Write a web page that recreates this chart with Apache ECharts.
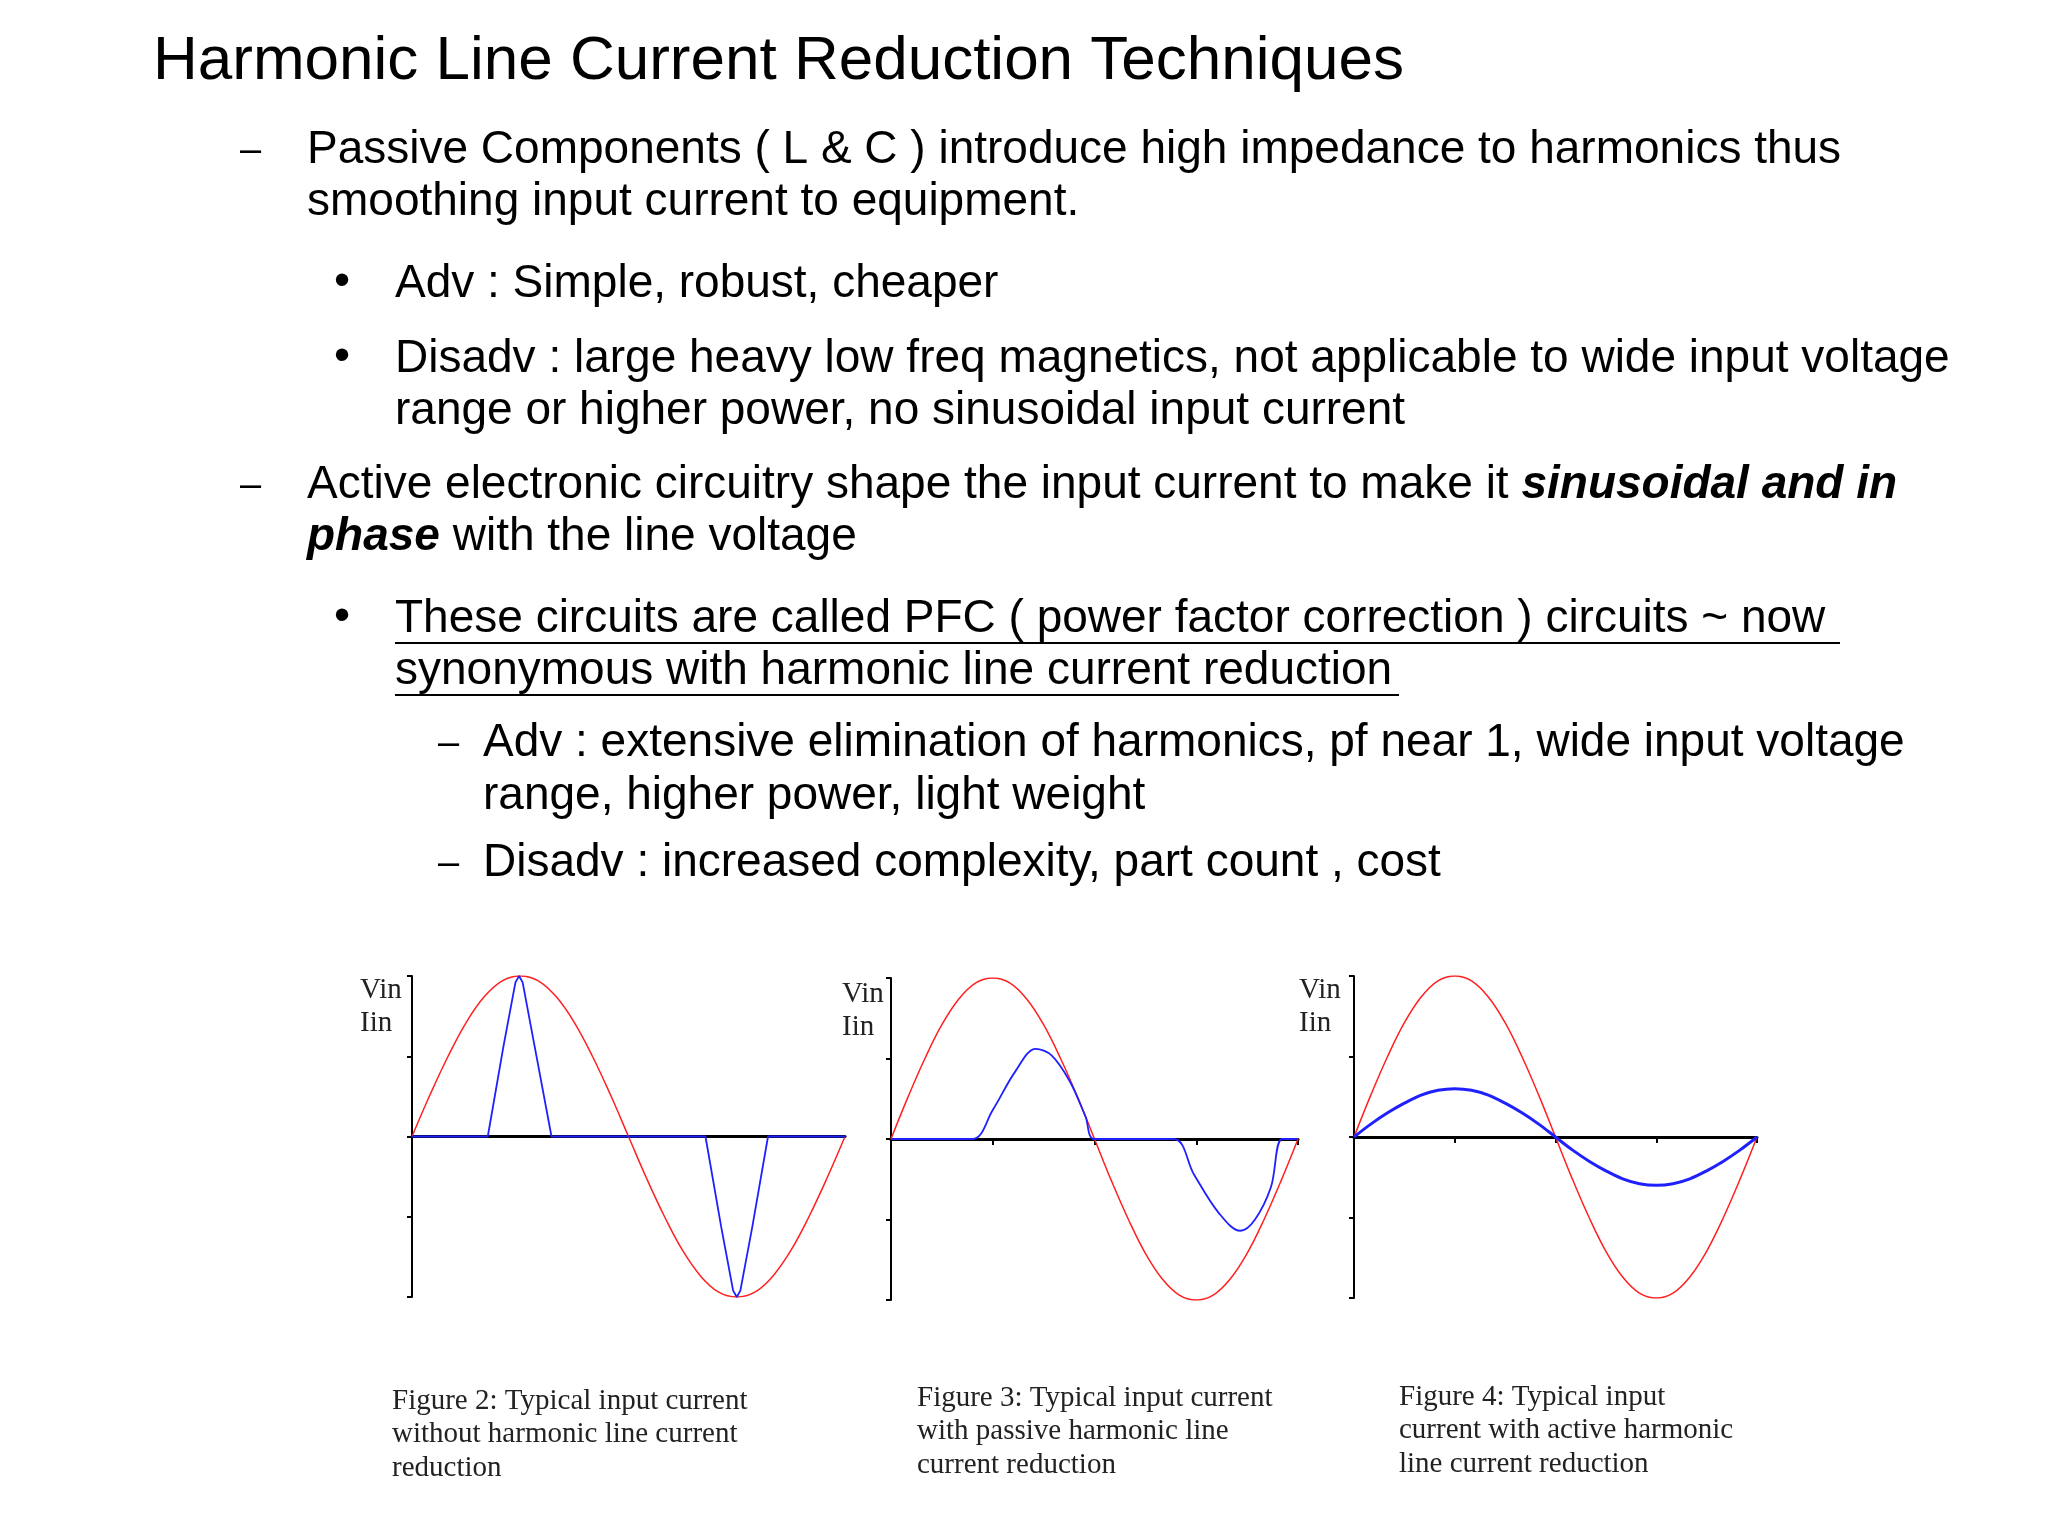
<!DOCTYPE html>
<html>
<head>
<meta charset="utf-8">
<script src="https://cdn.jsdelivr.net/npm/echarts@6/dist/echarts.min.js"></script>
<style>html,body{margin:0;padding:0;background:#fff}#main{width:2048px;height:1535px}</style>
</head>
<body>
<div id="main"></div>
<script>
// phase angle in degrees, 15 degree steps
var angles = [0,15,30,45,60,75,90,105,120,135,150,165,180,195,210,225,240,255,270,285,300,315,330,345,360];
var vin = [0,0.26,0.5,0.71,0.87,0.97,1,0.97,0.87,0.71,0.5,0.26,0,-0.26,-0.5,-0.71,-0.87,-0.97,-1,-0.97,-0.87,-0.71,-0.5,-0.26,0];
// fig 2: no reduction, narrow spikes
var iin1X = [0,63,76,86,89,92,102,116,244,257,267,270,273,283,296,360];
var iin1 = [0,0,0.56,0.96,1,0.96,0.56,0,0,-0.56,-0.96,-1,-0.96,-0.56,0,0];
// fig 3: passive reduction
var iin2X = [0,72,90,110,128,142,158,172,180,250,268,290,309,322,336,346,360];
var iin2 = [0,0,0.18,0.42,0.56,0.52,0.36,0.14,0,0,-0.22,-0.46,-0.57,-0.5,-0.3,0,0];
// fig 4: active reduction
var iin3 = [0,0.08,0.15,0.21,0.26,0.29,0.3,0.29,0.26,0.21,0.15,0.08,0,-0.08,-0.15,-0.21,-0.26,-0.29,-0.3,-0.29,-0.26,-0.21,-0.15,-0.08,0];

function pairs(xs, ys) { return xs.map(function (x, i) { return [x, ys[i]]; }); }

var grids = [
  {left: 412, top: 976, width: 433, height: 321},
  {left: 891, top: 978, width: 407, height: 322},
  {left: 1354, top: 976, width: 403, height: 322}
];
var currents = [pairs(iin1X, iin1), pairs(iin2X, iin2), pairs(angles, iin3)];
var xTickShow = [false, true, true];

var xAxes = [], yAxes = [], series = [];
grids.forEach(function (g, i) {
  xAxes.push({
    type: 'value', gridIndex: i, min: 0, max: 360, interval: 90,
    axisLine: {onZero: true, lineStyle: {color: '#000', width: 3}},
    axisTick: {show: xTickShow[i], length: 6, lineStyle: {color: '#000', width: 2}},
    axisLabel: {show: false}, splitLine: {show: false}
  });
  yAxes.push({
    type: 'value', gridIndex: i, min: -1, max: 1, interval: 0.5,
    axisLine: {show: true, onZero: false, lineStyle: {color: '#000', width: 2}},
    axisTick: {show: true, length: 5, lineStyle: {color: '#000', width: 2}},
    axisLabel: {show: false}, splitLine: {show: false}
  });
  series.push({
    type: 'line', xAxisIndex: i, yAxisIndex: i, data: pairs(angles, vin),
    smooth: 0.4, symbol: 'none', lineStyle: {color: '#ff2020', width: 1.5}
  });
  series.push({
    type: 'line', xAxisIndex: i, yAxisIndex: i, data: currents[i],
    smooth: i === 0 ? false : 0.35, symbol: 'none',
    lineStyle: {color: '#2020ff', width: i === 2 ? 3 : 1.8}
  });
});

var S = 'Liberation Sans, Arial, sans-serif';
var SERIF = 'Liberation Serif, Times New Roman, serif';
var FS = 46;
function t(x, y, text, size) {
  size = size || FS;
  return {type: 'text', left: x, top: y - size * 0.6,
    style: {text: text, font: size + 'px ' + S, fill: '#000'}};
}
function serif(x, y, text, size) {
  return {type: 'text', left: x, top: y - size * 0.6, style: {text: text, font: size + 'px ' + SERIF, fill: '#222'}};
}
var graphics = [
  t(153, 68, 'Harmonic Line Current Reduction Techniques', 62),
  t(240, 155, '–', 38),
  t(307, 155, 'Passive Components ( L & C ) introduce high impedance to harmonics thus'),
  t(307, 207, 'smoothing input current to equipment.'),
  t(334, 287, '•'),
  t(395, 289, 'Adv : Simple, robust, cheaper'),
  t(334, 362, '•'),
  t(395, 364, 'Disadv : large heavy low freq magnetics, not applicable to wide input voltage'),
  t(395, 416, 'range or higher power, no sinusoidal input current'),
  t(240, 490, '–', 38),
  {type: 'text', left: 307, top: 490 - FS * 0.6, style: {
    text: 'Active electronic circuitry shape the input current to make it {b|sinusoidal and in}',
    font: FS + 'px ' + S, fill: '#000',
    rich: {b: {font: 'italic bold ' + FS + 'px ' + S, fill: '#000'}}
  }},
  {type: 'text', left: 307, top: 542 - FS * 0.6, style: {
    text: '{b|phase} with the line voltage',
    font: FS + 'px ' + S, fill: '#000',
    rich: {b: {font: 'italic bold ' + FS + 'px ' + S, fill: '#000'}}
  }},
  t(334, 622, '•'),
  t(395, 624, 'These circuits are called PFC ( power factor correction ) circuits ~ now'),
  t(395, 676, 'synonymous with harmonic line current reduction'),
  {type: 'line', shape: {x1: 395, y1: 643, x2: 1840, y2: 643}, style: {stroke: '#000', lineWidth: 2}},
  {type: 'line', shape: {x1: 395, y1: 695, x2: 1399, y2: 695}, style: {stroke: '#000', lineWidth: 2}},
  t(438, 748, '–', 38),
  t(483, 748, 'Adv : extensive elimination of harmonics, pf near 1, wide input voltage'),
  t(483, 801, 'range, higher power, light weight'),
  t(438, 868, '–', 38),
  t(483, 868, 'Disadv : increased complexity, part count , cost'),
  serif(360, 993, 'Vin', 29), serif(360, 1026, 'Iin', 29),
  serif(842, 997, 'Vin', 29), serif(842, 1030, 'Iin', 29),
  serif(1299, 993, 'Vin', 29), serif(1299, 1026, 'Iin', 29),
  serif(392, 1404, 'Figure 2: Typical input current', 29),
  serif(392, 1437, 'without harmonic line current', 29),
  serif(392, 1471, 'reduction', 29),
  serif(917, 1401, 'Figure 3: Typical input current', 29),
  serif(917, 1434, 'with passive harmonic line', 29),
  serif(917, 1468, 'current reduction', 29),
  serif(1399, 1400, 'Figure 4: Typical input', 29),
  serif(1399, 1433, 'current with active harmonic', 29),
  serif(1399, 1467, 'line current reduction', 29)
];

var chart = echarts.init(document.getElementById('main'));
chart.setOption({
  animation: false,
  backgroundColor: '#fff',
  grid: grids,
  xAxis: xAxes,
  yAxis: yAxes,
  series: series,
  graphic: graphics
});
</script>
</body>
</html>
